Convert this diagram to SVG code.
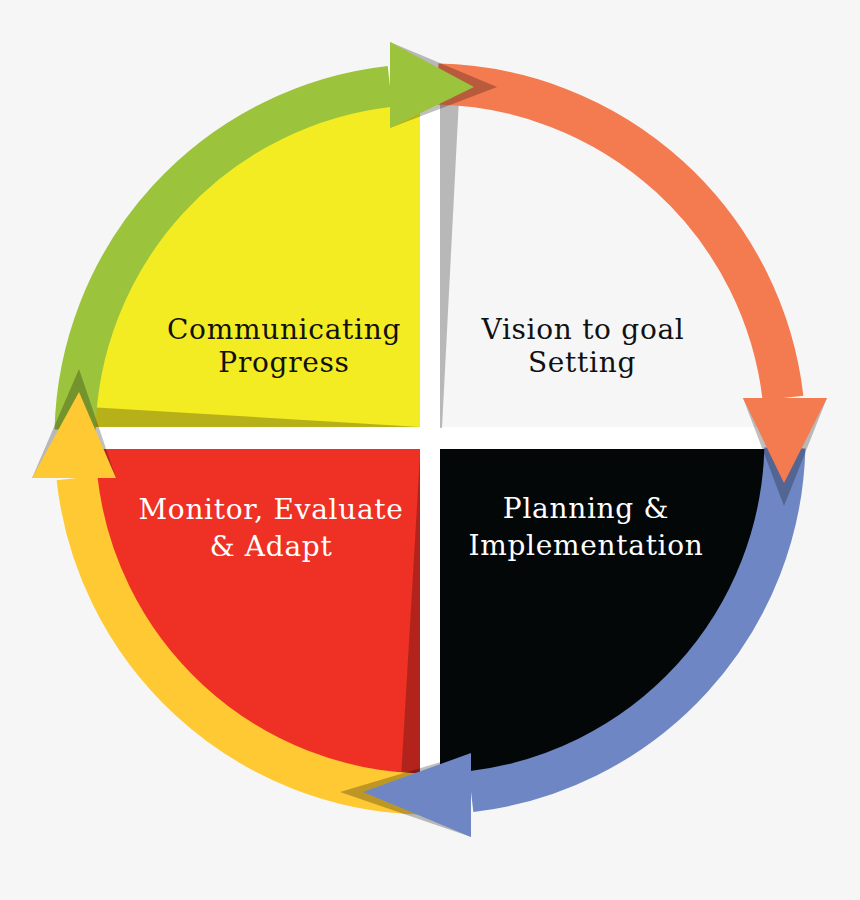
<svg xmlns="http://www.w3.org/2000/svg" width="860" height="900" viewBox="0 0 860 900">
<style>
.lbl{font-family:"DejaVu Serif","Liberation Serif",serif;font-size:28px;letter-spacing:0.7px;text-anchor:middle}
.dark{fill:#111111}
.light{fill:#ffffff}
.band{fill:none;stroke-width:41;stroke-linecap:butt}
.shd{fill:#000000;fill-opacity:0.25}
</style>
<rect width="860" height="900" fill="#f6f6f6"/>
<g id="quadrants">
<circle cx="430" cy="439" r="338" fill="#ffffff"/>
<g id="q-vision">
<path d="M440,427 L440,101 A338,338 0 0 1 767.8,427 Z" fill="#f6f6f6"/>
<polygon class="shd" points="440,98 459,98 442,428 440,428"/>
<text class="lbl dark" x="583" y="339">Vision to goal</text>
<text class="lbl dark" x="582" y="372">Setting</text>
</g>
<g id="q-communicating">
<path d="M420,427 L420,101 A338,338 0 0 0 92.2,427 Z" fill="#f4ec22"/>
<polygon class="shd" points="88,407 420,427 88,427"/>
<text class="lbl dark" x="284" y="339">Communicating</text>
<text class="lbl dark" x="284" y="372">Progress</text>
</g>
<g id="q-monitor">
<path d="M420,449 L92.1,449 A338,338 0 0 0 420,776.9 Z" fill="#ee3124"/>
<polygon class="shd" points="420,455 420,778 401,778"/>
<text class="lbl light" x="271" y="519">Monitor, Evaluate</text>
<text class="lbl light" x="271" y="556">&amp; Adapt</text>
</g>
<g id="q-planning">
<path d="M440,449 L440,776.9 A338,338 0 0 0 767.9,449 Z" fill="#030708"/>
<text class="lbl light" x="586" y="518">Planning &amp;</text>
<text class="lbl light" x="586" y="555">Implementation</text>
</g>
</g>
<g id="connectors">
<path class="band" stroke="#9bc43c" d="M75,430 A355,355 0 0 1 390,86.3"/>
<path class="band" stroke="#f47a50" d="M438,84.1 A355,355 0 0 1 783,398"/>
<path class="band" stroke="#6e87c4" d="M784.9,448 A355,355 0 0 1 471,791.6"/>
<path class="band" stroke="#fec933" d="M420,794 A355,355 0 0 1 77,478"/>
<polygon class="shd" points="390,42 497,87 390,128"/>
<polygon fill="#9bc43c" points="390,42 474,87 390,128"/>
<polygon class="shd" points="743,398 827,398 784,506"/>
<polygon fill="#f47a50" points="743,398 827,398 784,483"/>
<polygon class="shd" points="471,753 471,837 340,792"/>
<polygon fill="#6e87c4" points="471,753 471,837 363,792"/>
<polygon class="shd" points="32,478 116,478 79,369"/>
<polygon fill="#fec933" points="32,478 116,478 79,392"/>
</g>
</svg>
